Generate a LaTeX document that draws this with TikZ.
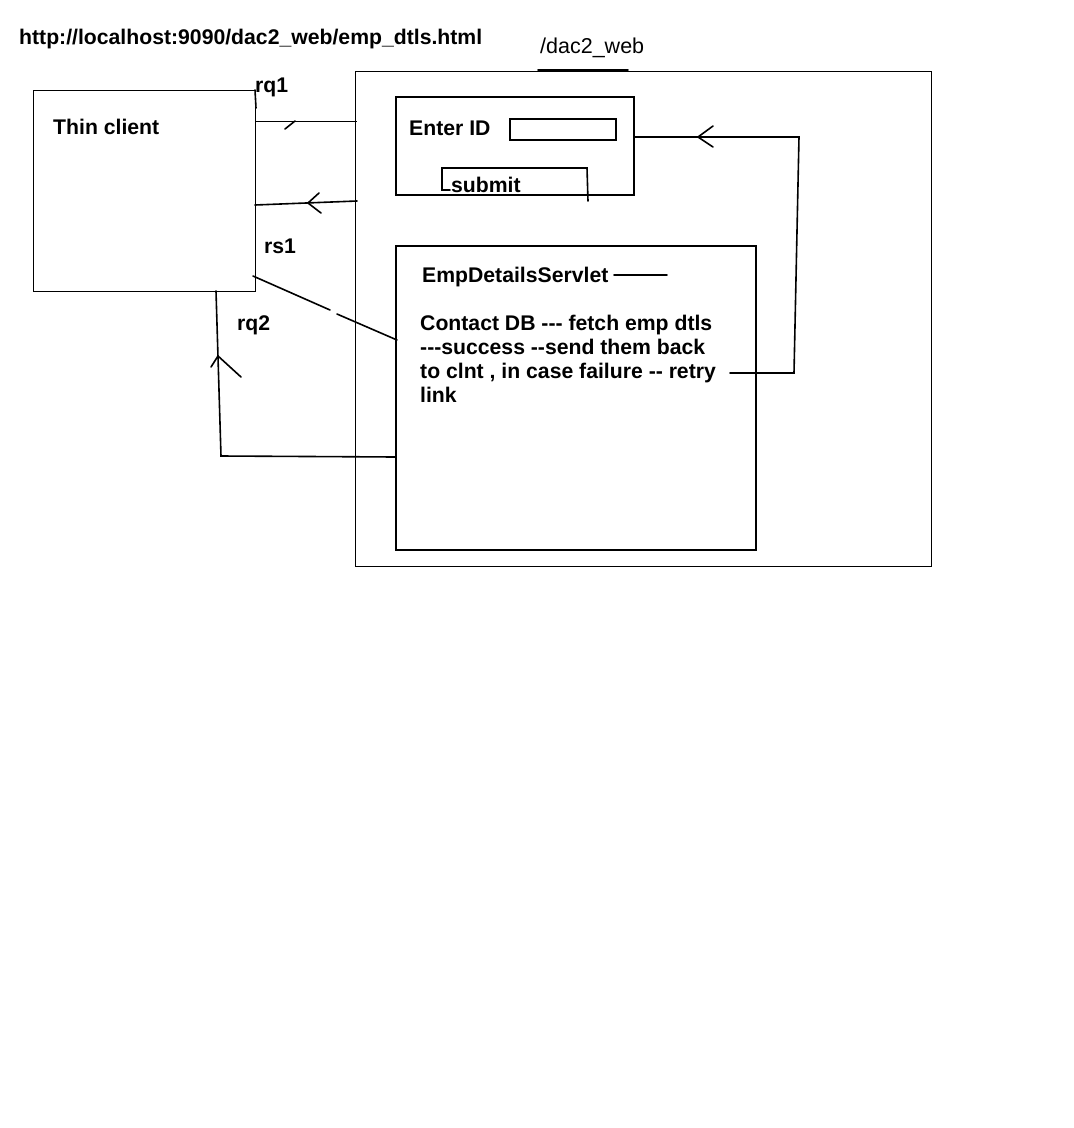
\documentclass[tikz,border=0pt]{standalone}
\usepackage{fontspec}
\setmainfont{Liberation Sans}
\begin{document}
\begin{tikzpicture}[x=1pt,y=-1pt,
  ln/.style={line width=1.6pt,line cap=round},
  thin/.style={line width=1pt},
  lbl/.style={anchor=base west,inner sep=0pt,font=\fontsize{21.2}{24}\selectfont\bfseries},
  lblr/.style={anchor=base west,inner sep=0pt,font=\fontsize{21.5}{24}\selectfont}]
\useasboundingbox[fill=white] (0,0) rectangle (1074,1128);
% boxes
\draw[thin] (33,90) rectangle (255,291);
\draw[ln] (255,90) -- (256,108);
\draw[thin] (355,71) rectangle (931,566);
\draw[ln] (538,70) -- (628,70);
\draw[ln] (396,97) rectangle (634,195);
\draw[ln] (510,119) rectangle (616,140);
\draw[ln] (450,190) -- (442,190) -- (442,168) -- (587,168) -- (588,201);
\draw[ln] (396,246) rectangle (756,550);
% texts
\node[lbl] (url) at (19,44) {http://localhost:9090/dac2\_web/emp\_dtls.html};
\node[lblr] (ctx) at (540,53) {/dac2\_web};
\node[lbl] (tc) at (53,134) {Thin client};
\node[lbl] (rq1) at (255,92) {rq1};
\node[lbl] (eid) at (409,135) {Enter ID};
\node[lbl] (sub) at (451,192) {submit};
\node[lbl] (rs1) at (264,253) {rs1};
\node[lbl] (rq2) at (237,330) {rq2};
\node[lbl] (srv) at (422,282) {EmpDetailsServlet};
\node[lbl] (b1) at (420,330) {Contact DB -{}-{}- fetch emp dtls};
\node[lbl] (b2) at (420,354) {-{}-{}-success -{}-send them back};
\node[lbl] (b3) at (420,378) {to clnt , in case failure -{}- retry};
\node[lbl] (b4) at (420,402) {link};
% connectors
\coordinate (a1) at (255,121); \coordinate (a2) at (357,121);
\draw[thin] (a1) -- (a2);
\draw[ln] (285,129) -- (295,121);
\coordinate (r1) at (255,205); \coordinate (r2) at (357,201);
\draw[ln] (r1) -- (r2);
\draw[ln] (319,193) -- (308,203) -- (321,213);
\coordinate (s1) at (253,276); \coordinate (s2) at (397,340);
\draw[ln] (s1) -- (330,310);
\draw[ln] (337,314) -- (s2);
\coordinate (q1) at (216,291); \coordinate (q2) at (396,457);
\draw[ln] (q1) -- (221,456) -- (q2);
\draw[ln] (211,367) -- (218,356) -- (241,377);
\draw[ln] (614,275) -- (667,275);
\coordinate (f1) at (634,137); \coordinate (f2) at (730,373);
\draw[ln] (f1) -- (799,137) -- (794,373) -- (f2);
\draw[ln] (713,126) -- (698,137) -- (713,147);
\end{tikzpicture}
\end{document}
